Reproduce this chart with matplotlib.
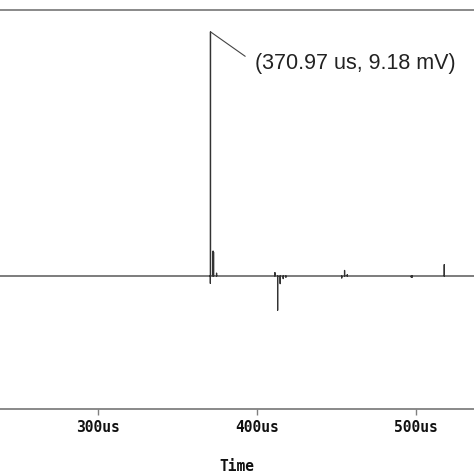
import matplotlib
matplotlib.use("Agg")
import matplotlib.pyplot as plt
import numpy as np

# Data (time in us, voltage in mV): spikes on a zero baseline
spike_times = [370.90, 370.97, 372.6, 372.9, 374.8, 411.5, 413.2, 414.8, 416.7, 418.4,
               453.5, 455.3, 457.0, 497.3, 497.8, 518.0]
spike_values = [-0.28, 9.18, 0.94, 0.90, 0.11, 0.13, -1.29, -0.29, -0.10, -0.05,
                -0.08, 0.21, 0.05, -0.05, -0.05, 0.43]
t_start, t_end = 238.0, 537.0
xtick_values = [300, 400, 500]
xtick_labels = ["300us", "400us", "500us"]
peak_label = "(370.97 us, 9.18 mV)"

# Build impulse waveform
t = [t_start]
v = [0.0]
for ts, vs in zip(spike_times, spike_values):
    t += [ts - 0.01, ts, ts + 0.01]
    v += [0.0, vs, 0.0]
t.append(t_end)
v.append(0.0)

fig = plt.figure(figsize=(4.74, 4.74), dpi=100)
ax = fig.add_axes([0.0, 65 / 474, 1.0, (409 - 10) / 474])
ax.plot(t, v, color="#333333", lw=0.9)
ax.set_xlim(238.6, 536.7)
ax.set_ylim(-5.0, 10.0)

for s in ["left", "right"]:
    ax.spines[s].set_visible(False)
for s in ["top", "bottom"]:
    ax.spines[s].set_color("#808080")
    ax.spines[s].set_linewidth(1.3)

ax.set_yticks([])
ax.set_xticks(xtick_values)
ax.set_xticklabels(xtick_labels, family="DejaVu Sans Mono", weight="bold", fontsize=10.5, color="#111111")
ax.tick_params(axis="x", direction="out", length=4.5, width=1, color="#808080", pad=3.5)
ax.set_xlabel("Time", family="DejaVu Sans Mono", weight="bold", fontsize=10.5, color="#111111", labelpad=17)

ax.annotate(peak_label, xy=(370.97, 9.18), xytext=(31.9, -22.5), textcoords="offset points",
            ha="left", va="center", family="Liberation Sans", fontsize=15.5, color="#222222",
            arrowprops=dict(arrowstyle="-", color="#444444", lw=0.8, shrinkA=6, shrinkB=0,
                            relpos=(0, 0.5)))

fig.savefig("out.png", dpi=100)
